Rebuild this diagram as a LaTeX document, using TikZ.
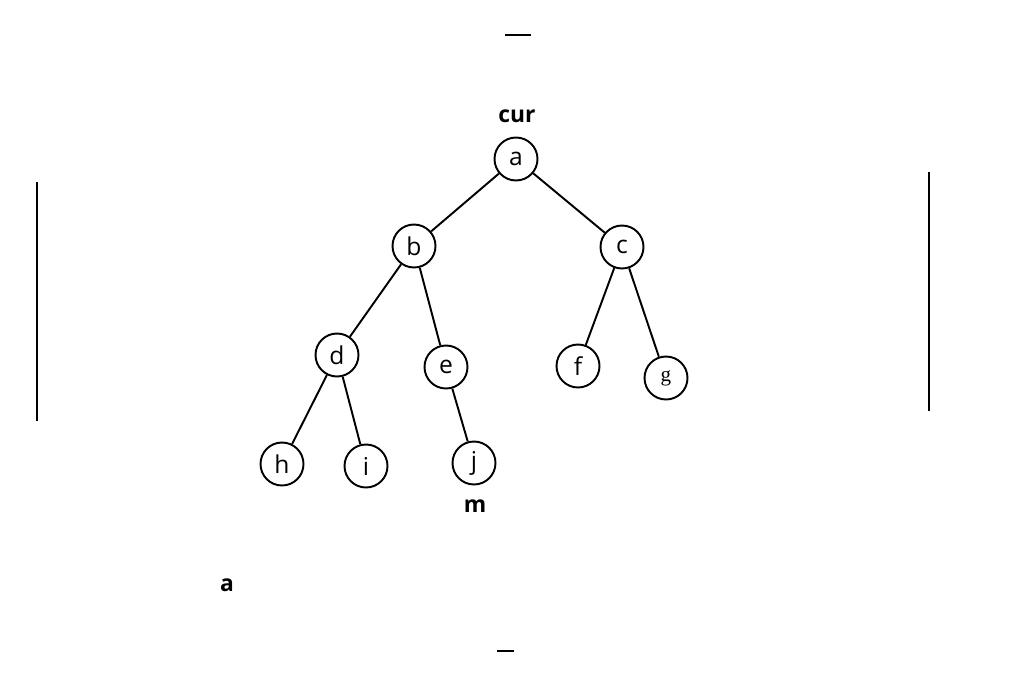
\documentclass[tikz,border=0pt]{standalone}
\usepackage{fontspec}
\setmainfont{Open Sans}
\newfontfamily\serifg{Liberation Serif}
\begin{document}
\begin{tikzpicture}[x=0.02cm,y=-0.02cm,
  tn/.style={circle,draw,line width=1.1pt,minimum size=0.86cm,inner sep=0pt,font=\fontsize{14}{16}\selectfont},
  ed/.style={line width=1.1pt},
  lb/.style={font=\fontsize{13}{15}\selectfont\bfseries}]
\useasboundingbox (0,0) rectangle (1013,686);
\node[tn] (a) at (516,159) {a};
\node[tn] (b) at (414,246) {b};
\node[tn] (c) at (622,247) {c};
\node[tn] (d) at (337,355) {d};
\node[tn] (e) at (446,367) {e};
\node[tn] (f) at (578,366) {f};
\node[tn] (g) at (666,378) {\serifg\fontsize{12}{14}\selectfont g};
\node[tn] (h) at (282,464) {h};
\node[tn] (i) at (366,466) {i};
\node[tn] (j) at (474,463) {j};
\draw[ed] (a)--(b); \draw[ed] (a)--(c);
\draw[ed] (b)--(d); \draw[ed] (b)--(e);
\draw[ed] (c)--(f); \draw[ed] (c)--(g);
\draw[ed] (d)--(h); \draw[ed] (d)--(i);
\draw[ed] (e)--(j);
\node[lb] (cur) at (517,116) {cur};
\node[lb] (m) at (475,506) {m};
\node[lb] (la) at (227,585) {a};
\coordinate (t1) at (505,35); \coordinate (t2) at (531,35);
\draw[line width=0.8pt] (t1)--(t2);
\coordinate (u1) at (497,651); \coordinate (u2) at (514,651);
\draw[line width=1pt] (u1)--(u2);
\coordinate (l1) at (37,182); \coordinate (l2) at (37,421);
\draw[line width=0.8pt] (l1)--(l2);
\coordinate (r1) at (929,172); \coordinate (r2) at (929,411);
\draw[line width=0.8pt] (r1)--(r2);
\end{tikzpicture}
\end{document}
